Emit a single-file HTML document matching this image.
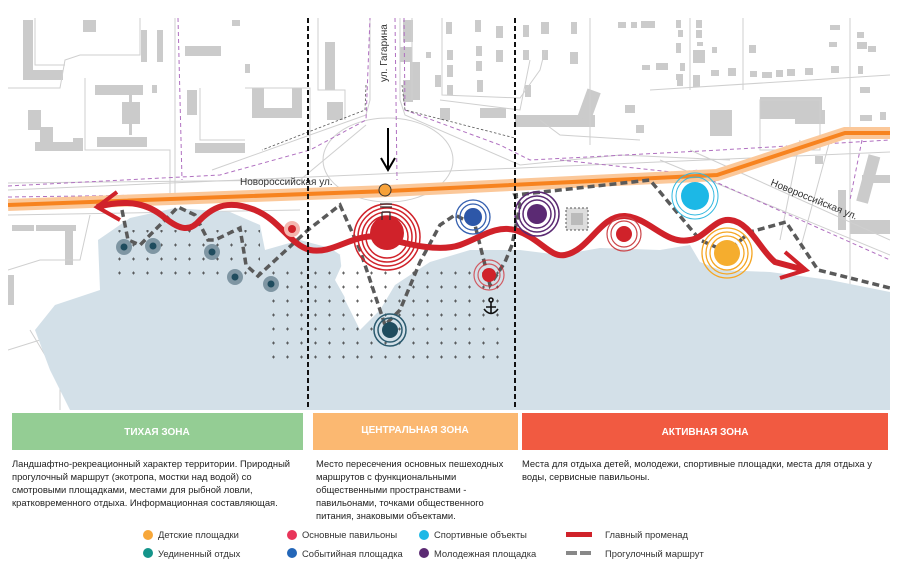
<!DOCTYPE html>
<html><head><meta charset="utf-8"><style>
html,body{margin:0;padding:0;background:#fff;width:900px;height:569px;overflow:hidden}
svg{display:block;font-family:"Liberation Sans",sans-serif}
</style></head><body>
<svg width="900" height="569" viewBox="0 0 900 569" xmlns="http://www.w3.org/2000/svg">
<defs>
<pattern id="dots" width="14" height="14" patternUnits="userSpaceOnUse">
<path d="M6 7h3M7.5 5.5v3" stroke="#333" stroke-width="0.9"/>
</pattern>
<clipPath id="mapc"><rect x="8" y="18" width="882" height="392"/></clipPath>
</defs>
<g clip-path="url(#mapc)">
<rect x="8" y="18" width="882" height="392" fill="#fff"/>
<g fill="#cbcbcb">
<rect x="23" y="20" width="10" height="60"/><rect x="23" y="70" width="40" height="10"/>
<rect x="83" y="20" width="13" height="12"/>
<rect x="141" y="30" width="6" height="32"/><rect x="157" y="30" width="6" height="32"/>
<rect x="95" y="85" width="48" height="10"/><rect x="152" y="85" width="5" height="8"/>
<rect x="122" y="102" width="18" height="22"/><rect x="129" y="95" width="3" height="40"/>
<rect x="97" y="137" width="50" height="10"/>
<rect x="28" y="110" width="13" height="20"/><rect x="40" y="127" width="13" height="15"/><rect x="35" y="142" width="48" height="9"/><rect x="73" y="138" width="10" height="8"/>
<rect x="185" y="46" width="36" height="10"/><rect x="245" y="64" width="5" height="9"/><rect x="232" y="20" width="8" height="6"/>
<rect x="187" y="90" width="10" height="25"/>
<rect x="252" y="88" width="12" height="30"/><rect x="252" y="108" width="50" height="10"/><rect x="292" y="88" width="10" height="30"/>
<rect x="195" y="143" width="50" height="10"/>
<rect x="325" y="42" width="10" height="48"/><rect x="327" y="102" width="16" height="18"/>
<rect x="403" y="20" width="10" height="22"/><rect x="400" y="47" width="12" height="15"/><rect x="410" y="62" width="10" height="38"/><rect x="403" y="80" width="10" height="22"/><rect x="426" y="52" width="5" height="6"/><rect x="435" y="75" width="6" height="12"/><rect x="440" y="108" width="10" height="12"/>
<rect x="446" y="22" width="6" height="12"/><rect x="475" y="20" width="6" height="12"/><rect x="447" y="50" width="6" height="10"/><rect x="476" y="46" width="6" height="10"/><rect x="447" y="65" width="6" height="12"/><rect x="476" y="61" width="6" height="10"/><rect x="447" y="85" width="6" height="10"/><rect x="477" y="80" width="6" height="12"/><rect x="496" y="26" width="7" height="12"/><rect x="496" y="50" width="7" height="12"/><rect x="523" y="25" width="6" height="12"/><rect x="523" y="50" width="6" height="10"/><rect x="525" y="85" width="6" height="12"/><rect x="541" y="22" width="8" height="12"/><rect x="542" y="50" width="6" height="10"/><rect x="571" y="22" width="6" height="12"/><rect x="570" y="52" width="8" height="12"/>
<rect x="480" y="108" width="26" height="10"/><rect x="515" y="115" width="80" height="12"/><rect x="582" y="90" width="14" height="30" transform="rotate(20 589 105)"/>
<rect x="618" y="22" width="8" height="6"/><rect x="631" y="22" width="6" height="6"/><rect x="641" y="21" width="14" height="7"/><rect x="676" y="20" width="5" height="8"/><rect x="678" y="30" width="5" height="7"/><rect x="676" y="43" width="5" height="10"/><rect x="680" y="63" width="5" height="8"/><rect x="676" y="74" width="6" height="6"/><rect x="642" y="65" width="8" height="5"/>
<rect x="693" y="50" width="12" height="13"/><rect x="656" y="63" width="12" height="7"/><rect x="693" y="75" width="7" height="12"/><rect x="677" y="74" width="6" height="12"/>
<rect x="696" y="20" width="6" height="8"/><rect x="696" y="30" width="6" height="8"/><rect x="697" y="42" width="6" height="4"/><rect x="697" y="54" width="6" height="6"/><rect x="712" y="47" width="5" height="6"/><rect x="711" y="70" width="8" height="6"/><rect x="728" y="68" width="8" height="8"/>
<rect x="749" y="45" width="7" height="8"/><rect x="750" y="71" width="7" height="6"/><rect x="762" y="72" width="10" height="6"/><rect x="776" y="70" width="7" height="7"/><rect x="787" y="69" width="8" height="7"/><rect x="805" y="68" width="8" height="7"/><rect x="831" y="66" width="8" height="7"/><rect x="829" y="42" width="8" height="5"/><rect x="830" y="25" width="10" height="5"/>
<rect x="857" y="32" width="7" height="6"/><rect x="857" y="42" width="10" height="7"/><rect x="868" y="46" width="8" height="6"/><rect x="858" y="66" width="5" height="8"/><rect x="860" y="87" width="10" height="6"/><rect x="860" y="115" width="12" height="6"/><rect x="880" y="112" width="6" height="8"/>
<rect x="710" y="110" width="22" height="26"/><rect x="760" y="97" width="62" height="22"/><rect x="795" y="110" width="30" height="14"/>
<rect x="625" y="105" width="10" height="8"/><rect x="636" y="125" width="8" height="8"/>
<rect x="862" y="155" width="12" height="48" transform="rotate(15 868 180)"/><rect x="838" y="190" width="8" height="40"/><rect x="850" y="220" width="40" height="14"/><rect x="862" y="175" width="28" height="8"/><rect x="815" y="156" width="8" height="8"/>
<rect x="12" y="225" width="22" height="6"/><rect x="36" y="225" width="40" height="6"/><rect x="65" y="225" width="8" height="40"/><rect x="8" y="275" width="6" height="30"/>
</g>
<g stroke="#cfcfcf" stroke-width="1" fill="none">
<path d="M8 88 L60 88 L65 60 L80 55 L140 55 L140 18"/>
<path d="M35 18 L35 65 L65 65"/>
<path d="M85 78 L85 150 L170 150 L170 200"/>
<path d="M175 18 L175 205"/><path d="M200 88 L200 140 L245 140"/>
<path d="M245 88 L310 88 L310 150"/>
<path d="M318 18 L318 90 L345 90 L345 120"/>
<path d="M212 170 L366 115 L370 100 L370 18"/>
<path d="M8 183 L300 180 L366 125"/>
<path d="M400 18 L400 100 L405 115 L520 165 L620 155 L730 160"/>
<path d="M412 18 L412 100"/>
<path d="M442 18 L442 95 L520 98 L540 70 L545 50"/>
<path d="M440 100 L520 110 L530 60"/>
<path d="M540 120 L560 135 L640 140"/><path d="M590 18 L590 145"/>
<path d="M650 90 L890 75"/><path d="M690 18 L690 90"/><path d="M743 18 L743 90"/><path d="M850 18 L850 300"/>
<path d="M760 100 L760 150 L820 150 L820 100 Z"/>
<path d="M8 190 L890 152"/><path d="M8 215 L300 210"/>
<path d="M690 150 L890 240"/><path d="M660 160 L890 255"/>
<path d="M800 140 L780 240"/><path d="M830 140 L800 250"/>
<ellipse cx="388" cy="160" rx="65" ry="42"/>
<path d="M30 330 L60 380 L60 410"/><path d="M8 350 L40 340"/><path d="M90 215 L80 260 L40 260 L8 270"/>
</g>
<g stroke="#b070c0" stroke-width="1" stroke-dasharray="4 3" fill="none">
<path d="M8 186 L220 175 L310 150 L366 120 L370 18"/>
<path d="M8 197 L230 194 L380 188 L520 185 L700 170"/>
<path d="M178 18 L182 180"/><path d="M395 18 L397 180"/><path d="M404 18 L405 110 L500 145 L530 160 L720 150 L890 140"/>
<path d="M560 160 L700 175 L890 260"/><path d="M862 140 L850 200"/>
</g>
<path d="M366 85 L365 110 L262 150" stroke="#555" stroke-width="0.8" stroke-dasharray="2.5 2" fill="none"/>
<path d="M402 85 L405 110 L515 138" stroke="#555" stroke-width="0.8" stroke-dasharray="2.5 2" fill="none"/>
<path d="M130 218 L175 208 L230 212 L260 225 L265 250 L300 240 L330 248 L345 258 L335 280 L352 310 L360 330 L380 310 L395 285 L430 262 L470 250 L520 250 L560 255 L600 248 L660 250 L690 245 L700 262 L720 270 L770 272 L830 280 L890 292 L890 410 L70 410 L50 370 L35 330 L55 305 L100 290 L98 240 Z" fill="#d3e0e8"/>
<path d="M340 255 L380 255 L390 290 L360 330 L345 300 Z" fill="#fff"/>
<rect x="265" y="270" width="240" height="95" fill="url(#dots)" opacity="0.8"/>
<rect x="110" y="230" width="150" height="45" fill="url(#dots)" opacity="0.8"/>
<path d="M8 205 L388 191 L717 175 L845 133 L890 133" stroke="#fbc89a" stroke-width="12" fill="none"/>
<path d="M8 205 L388 191 L717 175 L845 133 L890 133" stroke="#f7831f" stroke-width="4" fill="none"/>
<path d="M122 210 L128 240 L140 245 L160 225 L178 207 L195 215 L208 240 L215 240 L240 228 L246 265 L258 276 L308 230 L340 205 L360 250 L385 325 L400 310 L420 262 L440 225 L455 215 L475 225 L490 285 L505 262 L512 245 L520 205 L515 195 L650 180 L700 240 L727 252 L750 232 L786 222 L818 270 L890 288" stroke="#5a5a5a" stroke-width="3.5" stroke-dasharray="7 4" fill="none"/>
<path d="M97 207 C130 198 150 205 165 218 C180 230 190 232 200 220 C215 205 230 200 255 210 C280 220 290 245 310 250 C335 255 355 230 385 238 C410 245 440 252 460 245 C480 238 495 225 515 230 C540 238 550 258 565 255 C590 250 600 215 625 216 C650 218 665 245 690 240 C705 238 715 218 730 220 C750 222 760 250 775 262 L805 270" stroke="#d0222a" stroke-width="6" fill="none"/>
<path d="M117 192 L97 207 L120 220" stroke="#d0222a" stroke-width="4" fill="none"/>
<path d="M785 252 L806 270 L780 278" stroke="#d0222a" stroke-width="4" fill="none"/>
<g fill="none">
<circle cx="292" cy="229" r="8" fill="#f4b7b0"/><circle cx="292" cy="229" r="4" fill="#d0222a"/>
<g stroke="#d0222a" stroke-width="1.5"><circle cx="387" cy="237" r="33"/><circle cx="387" cy="237" r="29"/><circle cx="387" cy="237" r="25"/><circle cx="387" cy="237" r="21"/></g>
<circle cx="387" cy="233" r="17" fill="#d0222a"/>
<g stroke="#3560b0" stroke-width="1.3"><circle cx="473" cy="217" r="17"/><circle cx="473" cy="217" r="13"/></g><circle cx="473" cy="217" r="9" fill="#2d57a8"/>
<g stroke="#5b2a73" stroke-width="1.5"><circle cx="537" cy="214" r="22"/><circle cx="537" cy="214" r="18"/><circle cx="537" cy="214" r="14"/></g><circle cx="537" cy="214" r="10" fill="#5b2a73"/>
<g stroke="#d0222a" stroke-width="1.2" opacity="0.7"><circle cx="489" cy="275" r="15"/><circle cx="489" cy="275" r="11"/></g><circle cx="489" cy="275" r="7" fill="#d0222a"/>
<g stroke="#2b5a6e" stroke-width="1.5"><circle cx="390" cy="330" r="16"/><circle cx="390" cy="330" r="12"/></g><circle cx="390" cy="330" r="8" fill="#1f4c5e"/>
<g stroke="#cc4448" stroke-width="1.2"><circle cx="624" cy="234" r="17"/><circle cx="624" cy="234" r="13"/></g><circle cx="624" cy="234" r="8" fill="#d0222a"/>
<g stroke="#31b8e0" stroke-width="1"><circle cx="695" cy="196" r="23"/><circle cx="695" cy="196" r="19"/></g><circle cx="695" cy="196" r="14" fill="#1cb8e6"/>
<g stroke="#f5a623" stroke-width="1.3"><circle cx="727" cy="253" r="25"/><circle cx="727" cy="253" r="21"/><circle cx="727" cy="253" r="17"/></g><circle cx="727" cy="253" r="13" fill="#f5ad2e"/>
<g fill="#7f96a3"><circle cx="124" cy="247" r="8"/><circle cx="153" cy="246" r="8"/><circle cx="212" cy="252" r="8"/><circle cx="235" cy="277" r="8"/><circle cx="271" cy="284" r="8"/></g>
<g fill="#1f4c5e"><circle cx="124" cy="247" r="3.5"/><circle cx="153" cy="246" r="3.5"/><circle cx="212" cy="252" r="3.5"/><circle cx="235" cy="277" r="3.5"/><circle cx="271" cy="284" r="3.5"/></g>
</g>
<rect x="566" y="208" width="22" height="22" fill="#ddd" stroke="#555" stroke-dasharray="2 2"/><rect x="571" y="213" width="12" height="12" fill="#bbb"/>
<circle cx="385" cy="190" r="6" fill="#f7a23a" stroke="#333"/>
<path d="M380 204h12M380 207h12M382 212v8M390 212v8M382 212h8" stroke="#333" stroke-width="1.3" fill="none"/>
<path d="M388 128 L388 168 M381 158 L388 170 L395 158" stroke="#000" stroke-width="2" fill="none"/>
<g stroke="#111" stroke-width="1.6" fill="none"><circle cx="491" cy="300" r="2"/><path d="M491 302 V314 M486 307 H496 M484 309 Q491 318 498 309"/></g>
<text x="240" y="185" font-size="10" fill="#333">Новороссийская ул.</text>
<text transform="translate(770 185) rotate(22)" font-size="10" fill="#333">Новороссийская ул.</text>
<text transform="translate(387 82) rotate(-90)" font-size="10" fill="#333">ул. Гагарина</text>
<path d="M308 18 V410 M515 18 V410" stroke="#111" stroke-width="2" stroke-dasharray="5 3"/>
</g>
<rect x="12" y="413" width="291" height="37" fill="#94cd94"/>
<rect x="313" y="413" width="205" height="37" fill="#fbb871"/>
<rect x="522" y="413" width="366" height="37" fill="#f15a41"/>
<g fill="#fff" font-size="10" font-weight="bold" text-anchor="middle">
<text x="157" y="435">ТИХАЯ ЗОНА</text><text x="415" y="433">ЦЕНТРАЛЬНАЯ ЗОНА</text><text x="705" y="435">АКТИВНАЯ ЗОНА</text>
</g>
<g font-size="9.4" fill="#222">
<text x="12" y="467">Ландшафтно-рекреационный характер территории. Природный</text>
<text x="12" y="480">прогулочный маршрут (экотропа, мостки над водой) со</text>
<text x="12" y="493">смотровыми площадками, местами для рыбной ловли,</text>
<text x="12" y="506">кратковременного отдыха. Информационная составляющая.</text>
<text x="316" y="467">Место пересечения основных пешеходных</text>
<text x="316" y="480">маршрутов с функциональными</text>
<text x="316" y="493">общественными пространствами -</text>
<text x="316" y="506">павильонами, точками общественного</text>
<text x="316" y="519">питания, знаковыми объектами.</text>
<text x="522" y="467">Места для отдыха детей, молодежи, спортивные площадки, места для отдыха у</text>
<text x="522" y="480">воды, сервисные павильоны.</text>
</g>
<g font-size="9.4" fill="#333">
<circle cx="148" cy="535" r="5" fill="#f7a73a"/><text x="158" y="538">Детские площадки</text>
<circle cx="148" cy="553" r="5" fill="#14948a"/><text x="158" y="557">Уединенный отдых</text>
<circle cx="292" cy="535" r="5" fill="#e8355a"/><text x="302" y="538">Основные павильоны</text>
<circle cx="292" cy="553" r="5" fill="#2366b8"/><text x="302" y="557">Событийная площадка</text>
<circle cx="424" cy="535" r="5" fill="#1cb8e6"/><text x="434" y="538">Спортивные объекты</text>
<circle cx="424" cy="553" r="5" fill="#5b2a73"/><text x="434" y="557">Молодежная площадка</text>
<rect x="566" y="532" width="26" height="5" fill="#d0222a"/><text x="605" y="538">Главный променад</text>
<rect x="566" y="551" width="11" height="4" fill="#888"/><rect x="580" y="551" width="11" height="4" fill="#888"/><text x="605" y="557">Прогулочный маршрут</text>
</g>
</svg>
</body></html>
